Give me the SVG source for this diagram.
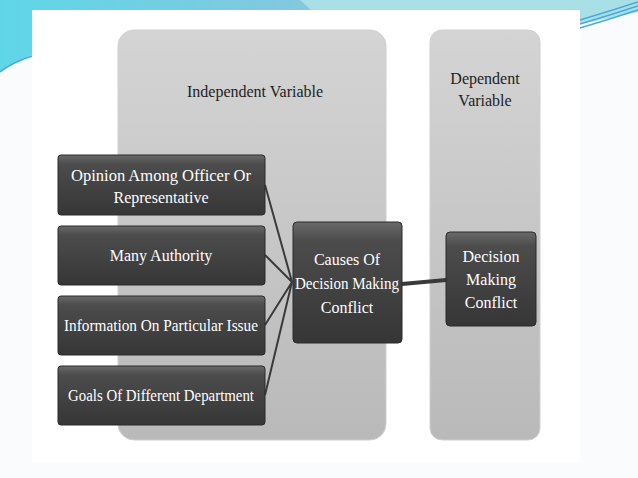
<svg xmlns="http://www.w3.org/2000/svg" width="638" height="478" viewBox="0 0 638 478">
<defs>
<linearGradient id="panel" x1="0" y1="0" x2="0" y2="1"><stop offset="0" stop-color="#d4d4d4"/><stop offset="1" stop-color="#b9b9b9"/></linearGradient>
<linearGradient id="box" x1="0" y1="0" x2="0" y2="1"><stop offset="0" stop-color="#6a6a6a"/><stop offset="0.15" stop-color="#4c4c4c"/><stop offset="1" stop-color="#363636"/></linearGradient>
<linearGradient id="sky" x1="0" y1="0" x2="1" y2="0"><stop offset="0" stop-color="#5fd6e8"/><stop offset="1" stop-color="#8cc4dc"/></linearGradient>
<style>
.p{fill:url(#panel);stroke:#cfcfcf;stroke-width:1}
.b{fill:url(#box);stroke:#2a2a2a;stroke-width:1}
.t{font-family:"Liberation Serif","DejaVu Serif",serif;font-size:16px;fill:#fff;text-anchor:middle}
.d{font-family:"Liberation Serif","DejaVu Serif",serif;font-size:16px;fill:#222;text-anchor:middle}
.c{stroke:#3a3a3a;stroke-width:2;fill:none}
</style>
</defs>
<rect width="638" height="478" fill="#f9fbfc"/>
<path d="M0,0 H300 C340,10 360,20 380,30 L32,30 L32,55 C20,60 8,65 0,72 Z" fill="url(#sky)"/>
<path d="M300,0 H638 V12 C610,18 590,22 580,24 V30 H330 C320,20 310,8 300,0Z" fill="#a9e0e8"/>
<path d="M580,20 C600,14 620,8 638,2 M580,24 C600,18 620,12 638,6 M580,28 C600,22 620,16 638,10" stroke="#4aa8d8" stroke-width="1.5" fill="none"/>
<path d="M0,72 C10,64 20,60 32,56" stroke="#4aa8d8" stroke-width="1.5" fill="none"/>
<rect x="32" y="10" width="548" height="453" fill="#fff"/>
<g id="panel-independent"><rect class="p" x="118" y="30" width="268" height="410" rx="16"/><text class="d" x="255" y="97">Independent Variable</text></g>
<g id="panel-dependent"><rect class="p" x="430" y="30" width="110" height="410" rx="12"/><text class="d" x="485" y="84">Dependent</text><text class="d" x="485" y="106">Variable</text></g>
<g id="connectors">
<path class="c" d="M265,185 L292,282 M265,255 L292,282 M265,325 L292,282 M265,395 L292,282"/>
<path d="M402,284 L446,280" stroke="#3a3a3a" stroke-width="4"/>
</g>
<g id="n1"><rect class="b" x="58" y="155" width="207" height="60" rx="3"/><text class="t" x="161" y="181" textLength="180" lengthAdjust="spacingAndGlyphs">Opinion Among Officer Or</text><text class="t" x="161" y="203">Representative</text></g>
<g id="n2"><rect class="b" x="58" y="226" width="207" height="59" rx="3"/><text class="t" x="161" y="261">Many Authority</text></g>
<g id="n3"><rect class="b" x="58" y="296" width="207" height="59" rx="3"/><text class="t" x="161" y="331" textLength="194" lengthAdjust="spacingAndGlyphs">Information On Particular Issue</text></g>
<g id="n4"><rect class="b" x="58" y="366" width="207" height="59" rx="3"/><text class="t" x="161" y="401" textLength="186" lengthAdjust="spacingAndGlyphs">Goals Of Different Department</text></g>
<g id="n5"><rect class="b" x="293" y="222" width="109" height="121" rx="4"/><text class="t" x="347" y="265">Causes Of</text><text class="t" x="347" y="289" textLength="104" lengthAdjust="spacingAndGlyphs">Decision Making</text><text class="t" x="347" y="313">Conflict</text></g>
<g id="n6"><rect class="b" x="446" y="232" width="90" height="94" rx="4"/><text class="t" x="491" y="262">Decision</text><text class="t" x="491" y="285">Making</text><text class="t" x="491" y="308">Conflict</text></g>
</svg>
